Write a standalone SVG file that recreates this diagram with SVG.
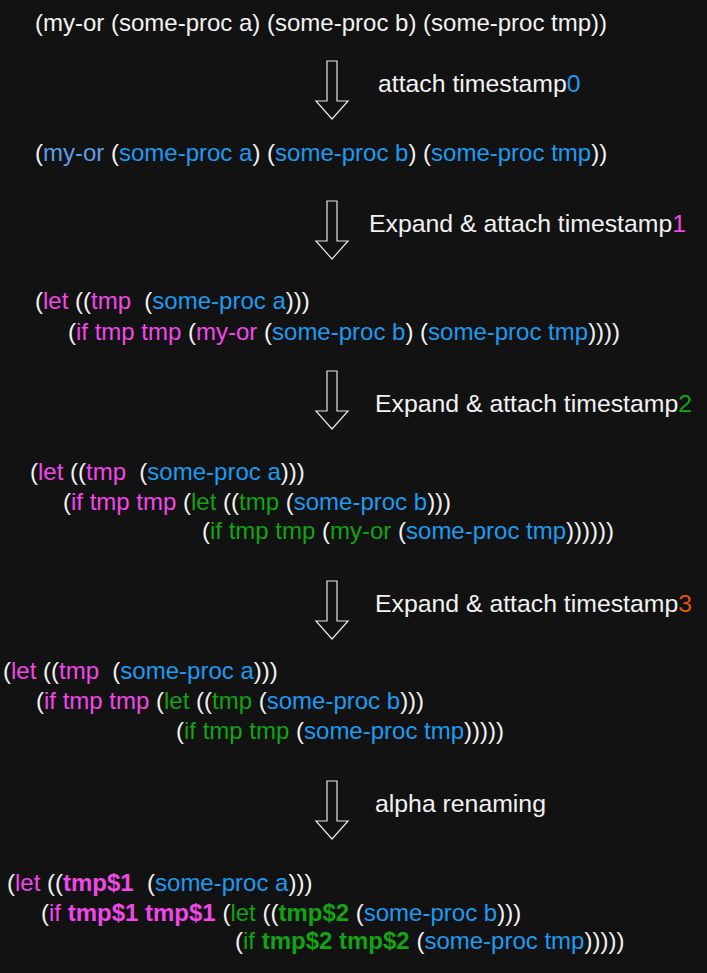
<svg xmlns="http://www.w3.org/2000/svg" width="707" height="973" viewBox="0 0 707 973" xml:space="preserve">
<style>
text{font-family:"Liberation Sans",Arial,sans-serif;font-size:24px;fill:#f2f2f2;white-space:pre}
#labels text{font-size:24.8px}
.b{fill:#1d9bf0}.lb{fill:#5c9fe4}.m{fill:#f048e8}.g{fill:#13a313}.o{fill:#dd5512}
.bd{font-weight:bold}
.arrow{fill:none;stroke:#e6e6e6;stroke-width:1.2}
</style>
<defs>
<polygon id="arr" points="327,61 337,61 337,101 348,101 332,119 316,101 327,101"/>
</defs>
<rect width="707" height="973" fill="#121212"/>
<g id="connectors">
<use href="#arr" class="arrow"/>
<use href="#arr" class="arrow" y="140"/>
<use href="#arr" class="arrow" y="310"/>
<use href="#arr" class="arrow" y="520"/>
<use href="#arr" class="arrow" y="720"/>
</g>
<g id="labels">
<text x="378" y="92">attach timestamp<tspan class="b">0</tspan></text>
<text x="369" y="232">Expand &amp; attach timestamp<tspan class="m">1</tspan></text>
<text x="375" y="412">Expand &amp; attach timestamp<tspan class="g">2</tspan></text>
<text x="375" y="612">Expand &amp; attach timestamp<tspan class="o">3</tspan></text>
<text x="375" y="812">alpha renaming</text>
</g>
<g id="step0">
<text x="35" y="31">(my-or (some-proc a) (some-proc b) (some-proc tmp))</text>
</g>
<g id="step1">
<text x="35" y="161">(<tspan class="lb">my-or</tspan> (<tspan class="b">some-proc a</tspan>) (<tspan class="b">some-proc b</tspan>) (<tspan class="b">some-proc tmp</tspan>))</text>
</g>
<g id="step2">
<text x="35" y="309">(<tspan class="m">let</tspan> ((<tspan class="m">tmp</tspan>  (<tspan class="b">some-proc a</tspan>)))</text>
<text x="68" y="340">(<tspan class="m">if tmp tmp</tspan> (<tspan class="m">my-or</tspan> (<tspan class="b">some-proc b</tspan>) (<tspan class="b">some-proc tmp</tspan>))))</text>
</g>
<g id="step3">
<text x="30" y="480">(<tspan class="m">let</tspan> ((<tspan class="m">tmp</tspan>  (<tspan class="b">some-proc a</tspan>)))</text>
<text x="63" y="510">(<tspan class="m">if tmp tmp</tspan> (<tspan class="g">let</tspan> ((<tspan class="g">tmp</tspan> (<tspan class="b">some-proc b</tspan>)))</text>
<text x="202" y="539">(<tspan class="g">if tmp tmp</tspan> (<tspan class="g">my-or</tspan> (<tspan class="b">some-proc tmp</tspan>))))))</text>
</g>
<g id="step4">
<text x="3" y="679">(<tspan class="m">let</tspan> ((<tspan class="m">tmp</tspan>  (<tspan class="b">some-proc a</tspan>)))</text>
<text x="36" y="709">(<tspan class="m">if tmp tmp</tspan> (<tspan class="g">let</tspan> ((<tspan class="g">tmp</tspan> (<tspan class="b">some-proc b</tspan>)))</text>
<text x="176" y="739">(<tspan class="g">if tmp tmp</tspan> (<tspan class="b">some-proc tmp</tspan>)))))</text>
</g>
<g id="step5">
<text x="7" y="891">(<tspan class="m">let</tspan> ((<tspan class="m bd">tmp$1</tspan>  (<tspan class="b">some-proc a</tspan>)))</text>
<text x="41" y="921">(<tspan class="m">if</tspan> <tspan class="m bd">tmp$1 tmp$1</tspan> (<tspan class="g">let</tspan> ((<tspan class="g bd">tmp$2</tspan> (<tspan class="b">some-proc b</tspan>)))</text>
<text x="235" y="949">(<tspan class="g">if</tspan> <tspan class="g bd">tmp$2 tmp$2</tspan> (<tspan class="b">some-proc tmp</tspan>)))))</text>
</g>
</svg>
